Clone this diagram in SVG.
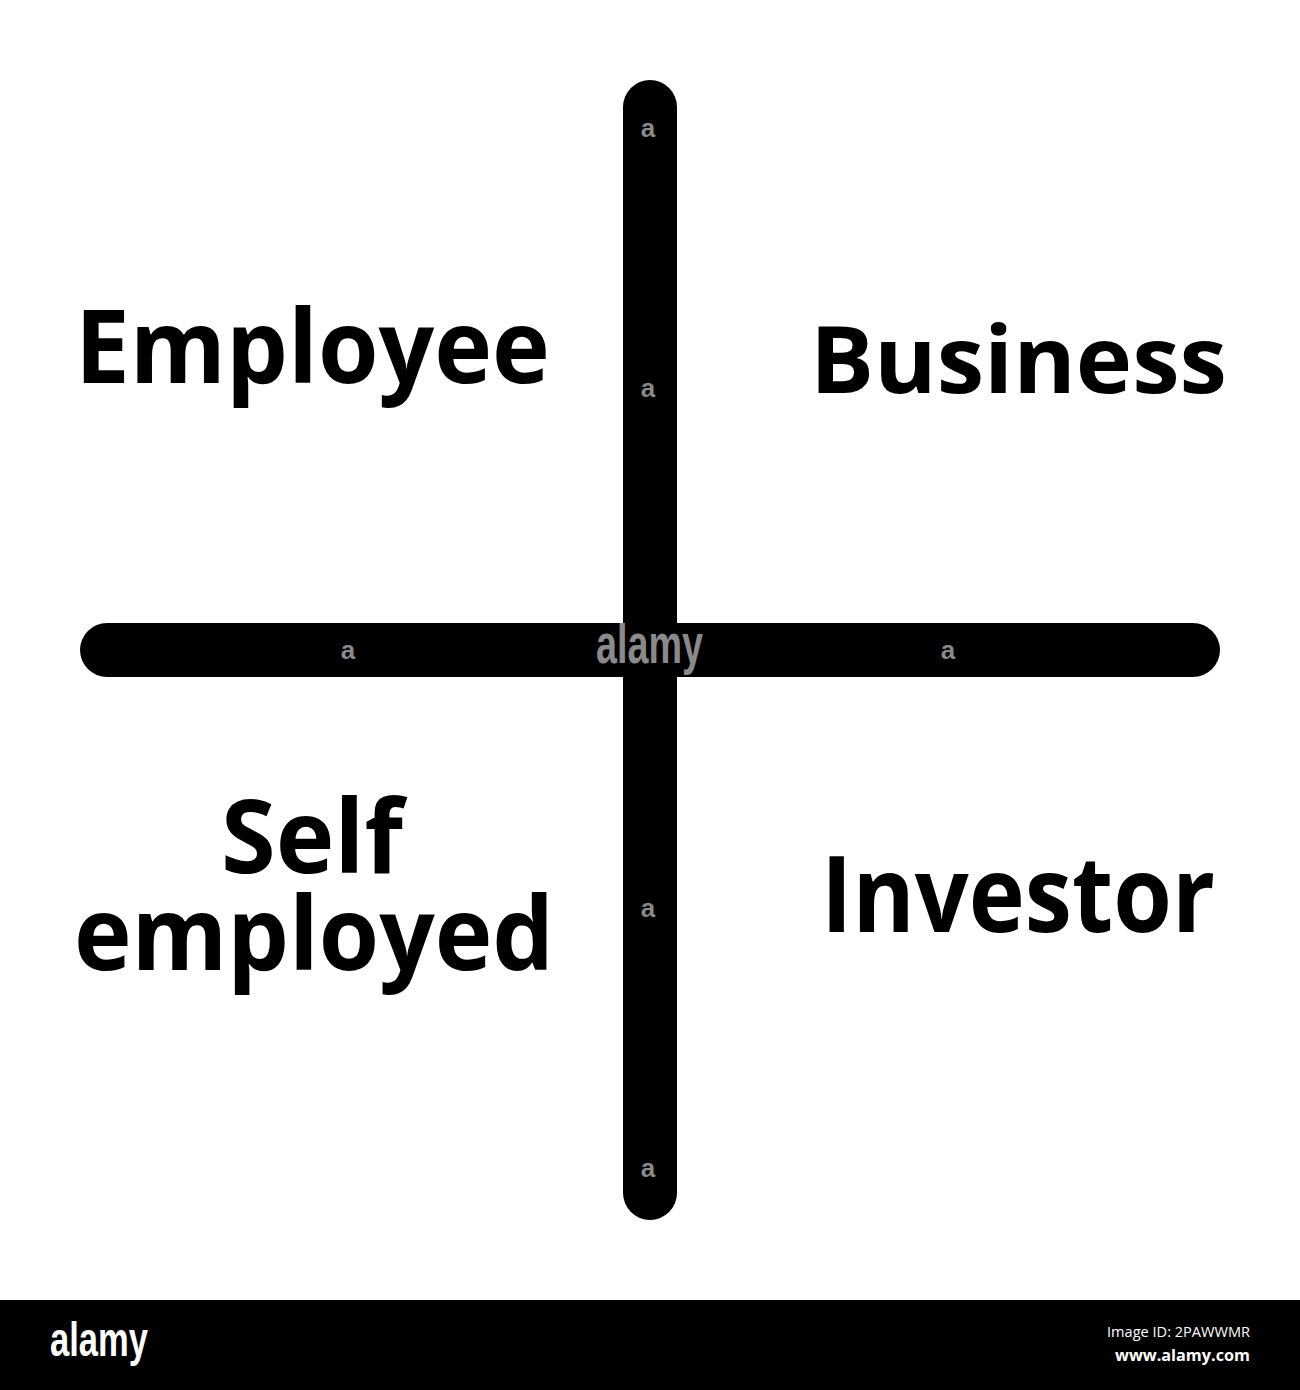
<svg xmlns="http://www.w3.org/2000/svg" width="1300" height="1390" viewBox="0 0 1300 1390">
<style>
.lbl{font-family:"Open Sans","Noto Sans","Liberation Sans",sans-serif;font-weight:700;fill:#000}
.ax{stroke:#000;stroke-width:54;stroke-linecap:round;fill:none}
.wm{font-family:"Liberation Sans Narrow","Liberation Sans",sans-serif;font-weight:700;fill:#8a8a8a}
.wa{font-family:"Liberation Sans Narrow","Liberation Sans",sans-serif;font-weight:700;fill:#8a8a8a;font-size:26px;text-anchor:middle}
.ft{font-family:"Open Sans","Liberation Sans",sans-serif;fill:#fff}
</style>
<rect width="1300" height="1390" fill="#fff"/>
<g id="connectors">
<line class="ax" x1="650" y1="107" x2="650" y2="1193"/>
<line class="ax" x1="107" y1="650" x2="1193" y2="650"/>
</g>
<g id="watermarks">
<text class="wa" x="648" y="137">a</text>
<text class="wa" x="648" y="397">a</text>
<text class="wa" x="648" y="917">a</text>
<text class="wa" x="648" y="1177">a</text>
<text class="wa" x="348" y="659">a</text>
<text class="wa" x="948" y="659">a</text>
<text class="wm" x="596" y="663" font-size="56" textLength="107" lengthAdjust="spacingAndGlyphs">alamy</text>
</g>
<g id="employee">
<text class="lbl" x="75" y="383" font-size="102" textLength="475" lengthAdjust="spacingAndGlyphs">Employee</text>
</g>
<g id="business">
<text class="lbl" x="810" y="393" font-size="94" textLength="417" lengthAdjust="spacingAndGlyphs">Business</text>
</g>
<g id="self-employed">
<text class="lbl" x="221" y="873" font-size="102" textLength="182" lengthAdjust="spacingAndGlyphs">Self</text>
<text class="lbl" x="74" y="970" font-size="102" textLength="480" lengthAdjust="spacingAndGlyphs">employed</text>
</g>
<g id="investor">
<text class="lbl" x="821" y="932" font-size="105" textLength="394" lengthAdjust="spacingAndGlyphs">Investor</text>
</g>
<g id="footer">
<rect x="0" y="1300" width="1300" height="90" fill="#000"/>
<text x="50" y="1356" font-family="Liberation Sans Narrow,Liberation Sans,sans-serif" font-weight="700" font-size="48" fill="#fff" textLength="98" lengthAdjust="spacingAndGlyphs">alamy</text>
<text class="ft" x="1107" y="1337" font-size="15" textLength="143" lengthAdjust="spacingAndGlyphs">Image ID: 2PAWWMR</text>
<text class="ft" x="1115" y="1361" font-size="16" font-weight="700" textLength="135" lengthAdjust="spacingAndGlyphs">www.alamy.com</text>
</g>
</svg>
